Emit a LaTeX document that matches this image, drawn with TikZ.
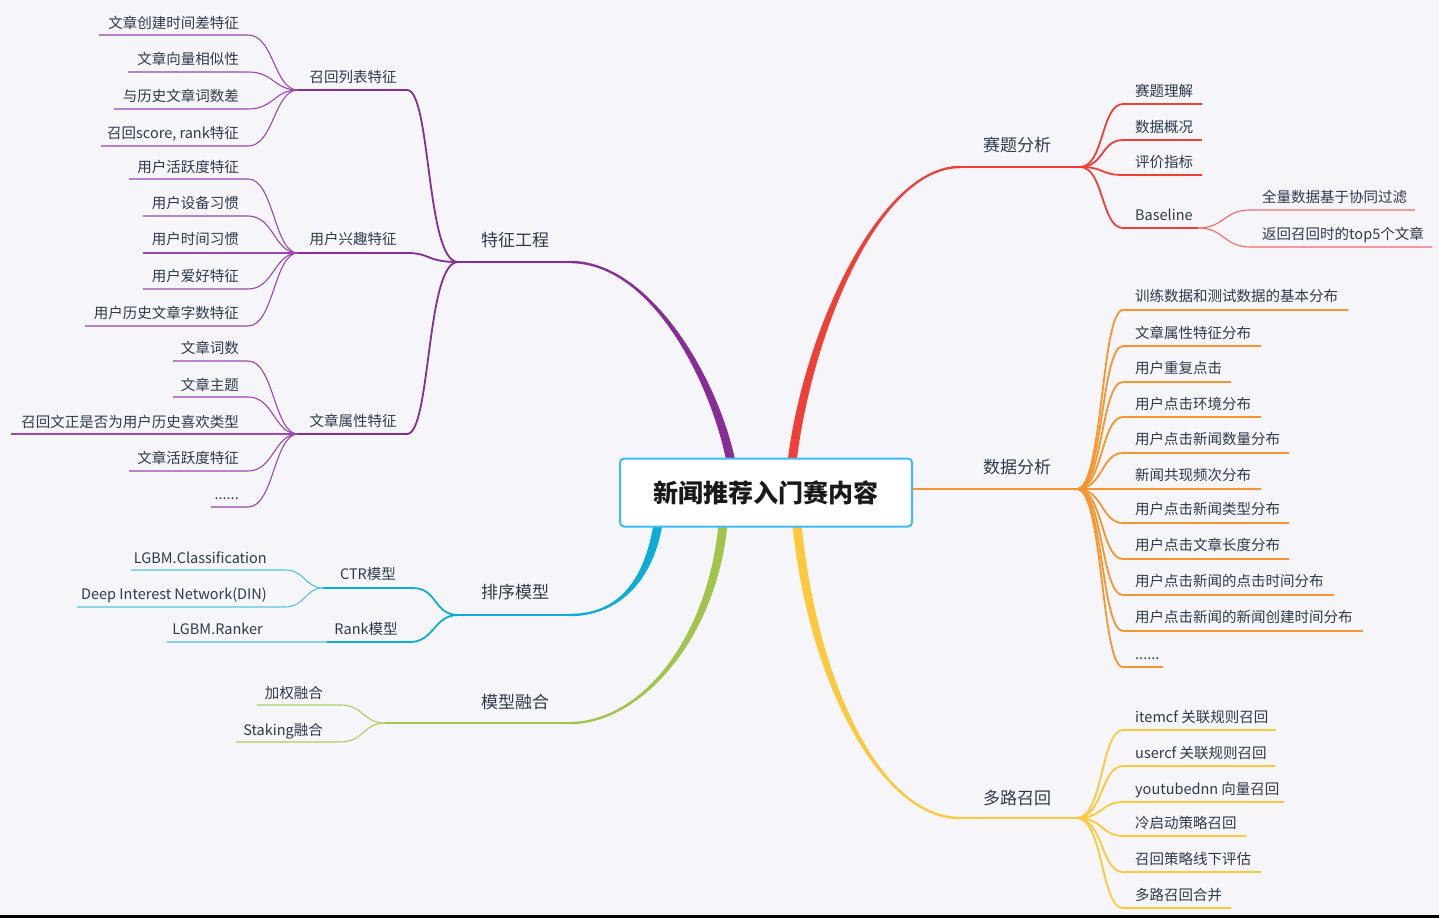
\documentclass[tikz,border=0pt]{standalone}
\usepackage{fontspec}
\setmainfont{Noto Sans CJK SC}
\usetikzlibrary{calc}
\definecolor{bg}{HTML}{F5F5FA}
\definecolor{txt}{HTML}{2E3A4B}
\definecolor{cpur}{HTML}{862D96}
\definecolor{cpurl}{HTML}{9A48AC}
\definecolor{cred}{HTML}{EE4036}
\definecolor{credl}{HTML}{F06A66}
\definecolor{cora}{HTML}{F7952F}
\definecolor{cyel}{HTML}{FDC83B}
\definecolor{ccya}{HTML}{0DADD6}
\definecolor{ccyal}{HTML}{55C4E4}
\definecolor{ccyall}{HTML}{7FD3EC}
\definecolor{cgre}{HTML}{A2C44A}
\definecolor{cgrel}{HTML}{B0CD63}
\definecolor{cbox}{HTML}{3DBBF5}
\newcommand\sixdots{......}
\tikzset{
  leaf/.style={font=\fontsize{14.5}{17}\selectfont, text=txt, inner sep=0pt, text height=11.5pt, text depth=2pt, yshift=-1.3pt},
  mainlbl/.style={font=\fontsize{17}{20}\selectfont, text=txt, inner sep=0pt, text height=13.5pt, text depth=2.5pt, yshift=-1.5pt},
  titlebox/.style={draw=cbox, line width=2pt, fill=white, rounded corners=4pt, minimum width=292pt, minimum height=68pt, inner sep=0pt, font=\fontsize{25}{30}\selectfont\bfseries, text=black!90},
  thinln/.style={line width=1.1pt},
  midln/.style={line width=1.8pt},
  mainln/.style={line width=2.4pt},
}
\newcommand\taperfill[7]{\fill[#1] ($(#2)+(#6)$) .. controls ($(#3)+(#6)$) and ($(#4)+(#7)$) .. ($(#5)+(#7)$) -- ($(#5)-(#7)$) .. controls ($(#4)-(#7)$) and ($(#3)-(#6)$) .. ($(#2)-(#6)$) -- cycle;}
\begin{document}
\begin{tikzpicture}[x=1pt,y=-1pt]
\fill[bg] (0,0) rectangle (1439,918);
\useasboundingbox (0,0) rectangle (1439,918);
\fill[black] (0,915) rectangle (1439,918);

% ---------- main branch anchor points
\coordinate (fS) at (731,462); \coordinate (fE) at (570,262); \coordinate (fJ) at (458,262);
\coordinate (cS) at (658,524); \coordinate (cE) at (570,615); \coordinate (cJ) at (458,615);
\coordinate (gS) at (723,524); \coordinate (gE) at (570,723); \coordinate (gJ) at (385,723);
\coordinate (rS) at (792,462); \coordinate (rE) at (960,167); \coordinate (rJ) at (1080,167);
\coordinate (oS) at (905,489); \coordinate (oJ) at (1077,489);
\coordinate (yS) at (797,524); \coordinate (yE) at (960,818); \coordinate (yJ) at (1077,818);

\taperfill{cpur}{fS}{714,378}{650,262}{fE}{-4.5,0}{0,1.2}
\taperfill{ccya}{cS}{648,585}{615,615}{cE}{-4.5,0}{0,-1.2}
\taperfill{cgre}{gS}{712,640}{640,723}{gE}{-4.5,0}{0,-1.2}
\taperfill{cred}{rS}{808,330}{880,167}{rE}{4.5,0}{0,1.2}
\taperfill{cyel}{yS}{812,680}{880,818}{yE}{4.5,0}{0,-1.2}

\draw[cpur, mainln] (fE) -- (fJ);
\draw[ccya, mainln] (cE) -- (cJ);
\draw[cgre, mainln] (gE) -- (gJ);
\draw[cred, mainln] (rE) -- (rJ);
\draw[cora, line width=2.8pt] (oS) -- (oJ);
\draw[cyel, mainln] (yE) -- (yJ);

% ---------- root
\node[titlebox] (root) at (766,492.5) {新闻推荐入门赛内容};

% ---------- main labels
\node[mainlbl] (m1) at (515,239) {特征工程};
\node[mainlbl] (m2) at (515,591) {排序模型};
\node[mainlbl] (m3) at (515,701) {模型融合};
\node[mainlbl] (m4) at (1017,144) {赛题分析};
\node[mainlbl] (m5) at (1017,466) {数据分析};
\node[mainlbl] (m6) at (1017,797) {多路召回};

% ---------- 特征工程 sub-branches
\foreach \nm/\sy/\ly/\lab in {A/90/76/召回列表特征, B/253/238/用户兴趣特征, C/434/420/文章属性特征} {
  \node[leaf] (\nm) at (353,\ly) {\lab};
  \coordinate (\nm J) at (298,\sy);
  \coordinate (\nm E) at (407,\sy);
  \draw[cpur, midln] (\nm J) -- (\nm E) .. controls +(24,0) and +(-32,0) .. (fJ);
}
\foreach \t/\ty/\uy/\xs [count=\i] in {文章创建时间差特征/22/35/99, 文章向量相似性/58/72/128, 与历史文章词数差/95/109/114, {召回score, rank特征}/132/146/101} {
  \node[leaf, anchor=east] (A\i) at (239,\ty) {\t};
  \coordinate (A\i-s) at (\xs,\uy);
  \coordinate (A\i-e) at (248,\uy);
  \draw[cpurl, thinln] (A\i-s) -- (A\i-e) .. controls +(26,0) and +(-24,0) .. (AJ);
}
\foreach \t/\ty/\uy/\xs [count=\i] in {用户活跃度特征/166/179/129, 用户设备习惯/202/216/143, 用户时间习惯/238/253/143, 用户爱好特征/275/289/143, 用户历史文章字数特征/312/326/85} {
  \node[leaf, anchor=east] (B\i) at (239,\ty) {\t};
  \coordinate (B\i-s) at (\xs,\uy);
  \coordinate (B\i-e) at (248,\uy);
  \draw[cpurl, thinln] (B\i-s) -- (B\i-e) .. controls +(26,0) and +(-24,0) .. (BJ);
}
\foreach \t/\ty/\uy/\xs [count=\i] in {文章词数/347/361/173, 文章主题/384/397/173, 召回文正是否为用户历史喜欢类型/421/434/11, 文章活跃度特征/457/471/129, \sixdots/493/507/211} {
  \node[leaf, anchor=east] (C\i) at (239,\ty) {\t};
  \coordinate (C\i-s) at (\xs,\uy);
  \coordinate (C\i-e) at (248,\uy);
  \draw[cpurl, thinln] (C\i-s) -- (C\i-e) .. controls +(26,0) and +(-24,0) .. (CJ);
}

% ---------- 排序模型
\node[leaf] (ctr) at (368,573) {CTR模型};
\coordinate (ctrJ) at (323,588); \coordinate (ctrE) at (413,588);
\draw[ccya, midln] (ctrJ) -- (ctrE) .. controls +(24,0) and +(-24,0) .. (cJ);
\node[leaf] (rank) at (366,628) {Rank模型};
\coordinate (rankJ) at (327,642); \coordinate (rankE) at (410,642);
\draw[ccya, midln] (rankJ) -- (rankE) .. controls +(24,0) and +(-24,0) .. (cJ);
\foreach \t/\ty/\uy/\xs [count=\i] in {LGBM.Classification/557/570/131, Deep Interest Network(DIN)/593/607/77} {
  \node[leaf, anchor=east] (D\i) at (267,\ty) {\t};
  \coordinate (D\i-s) at (\xs,\uy);
  \coordinate (D\i-e) at (285,\uy);
  \draw[ccyal, thinln] (D\i-s) -- (D\i-e) .. controls +(20,0) and +(-18,0) .. (ctrJ);
}
\node[leaf, anchor=east] (lr) at (263,628) {LGBM.Ranker};
\coordinate (lr-s) at (167,642);
\draw[ccyall, midln] (lr-s) -- (rankJ);

% ---------- 模型融合
\foreach \t/\ty/\uy/\xs [count=\i] in {加权融合/692/705/257, Staking融合/729/742/236} {
  \node[leaf, anchor=east] (G\i) at (323,\ty) {\t};
  \coordinate (G\i-s) at (\xs,\uy);
  \coordinate (G\i-e) at (340,\uy);
  \draw[cgrel, thinln] (G\i-s) -- (G\i-e) .. controls +(24,0) and +(-22,0) .. (gJ);
}

% ---------- 赛题分析
\foreach \t/\ty/\uy/\xe [count=\i] in {赛题理解/90/104/1202, 数据概况/126/140/1202, 评价指标/161/175/1202, Baseline/214/228/1198} {
  \node[leaf, anchor=west] (R\i) at (1135,\ty) {\t};
  \coordinate (R\i-s) at (1123,\uy);
  \coordinate (R\i-e) at (\xe,\uy);
  \draw[cred, midln] (rJ) .. controls +(24,0) and +(-22,0) .. (R\i-s) -- (R\i-e);
}
\foreach \t/\ty/\uy/\xe [count=\i] in {全量数据基于协同过滤/196/210/1415, 返回召回时的top5个文章/233/247/1432} {
  \node[leaf, anchor=west] (S\i) at (1262,\ty) {\t};
  \coordinate (S\i-s) at (1250,\uy);
  \coordinate (S\i-e) at (\xe,\uy);
  \draw[credl, thinln] (R4-e) .. controls +(26,0) and +(-26,0) .. (S\i-s) -- (S\i-e);
}

% ---------- 数据分析
\foreach \t/\ty/\uy/\xe [count=\i] in {训练数据和测试数据的基本分布/295/310/1348, 文章属性特征分布/332/346/1261, 用户重复点击/367/382/1231, 用户点击环境分布/403/417/1261, 用户点击新闻数量分布/438/453/1289, 新闻共现频次分布/474/489/1261, 用户点击新闻类型分布/508/523/1289, 用户点击文章长度分布/544/559/1289, 用户点击新闻的点击时间分布/580/595/1334, 用户点击新闻的新闻创建时间分布/616/631/1363, \sixdots/653/667/1163} {
  \node[leaf, anchor=west] (O\i) at (1135,\ty) {\t};
  \coordinate (O\i-s) at (1123,\uy);
  \coordinate (O\i-e) at (\xe,\uy);
  \draw[cora, midln] (oJ) .. controls +(26,0) and +(-22,0) .. (O\i-s) -- (O\i-e);
}

% ---------- 多路召回
\foreach \t/\ty/\uy/\xe [count=\i] in {itemcf 关联规则召回/716/730/1276, usercf 关联规则召回/752/766/1275, youtubednn 向量召回/788/802/1284, 冷启动策略召回/822/836/1246, 召回策略线下评估/858/872/1261, 多路召回合并/894/908/1231} {
  \node[leaf, anchor=west] (Y\i) at (1135,\ty) {\t};
  \coordinate (Y\i-s) at (1123,\uy);
  \coordinate (Y\i-e) at (\xe,\uy);
  \draw[cyel, midln] (yJ) .. controls +(26,0) and +(-22,0) .. (Y\i-s) -- (Y\i-e);
}
\end{tikzpicture}
\end{document}
